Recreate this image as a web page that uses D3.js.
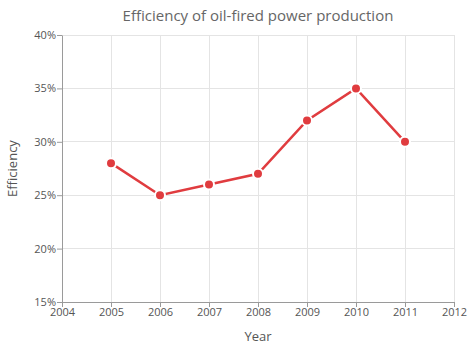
<!DOCTYPE html>
<html><head><meta charset="utf-8">
<script src="https://cdn.jsdelivr.net/npm/d3@7"></script>
<style>body{margin:0;background:#fff;}svg{display:block;}</style>
</head><body>
<script>
const years = [2005, 2006, 2007, 2008, 2009, 2010, 2011];
const efficiency = [28, 25, 26, 27, 32, 35, 30];
const xTicks = [2004, 2005, 2006, 2007, 2008, 2009, 2010, 2011, 2012];
const yTicks = [15, 20, 25, 30, 35, 40];
const title = "Efficiency of oil-fired power production";
const xTitle = "Year";
const yTitle = "Efficiency";

const W = 474, H = 348;
const m = {left: 62, right: 20, top: 35, bottom: 46};
const font = "'Open Sans', 'Segoe UI', sans-serif";
const svg = d3.select("body").append("svg").attr("width", W).attr("height", H);
const x = d3.scaleLinear().domain([2004, 2012]).range([m.left, W - m.right]);
const y = d3.scaleLinear().domain([15, 40]).range([H - m.bottom, m.top]);

// grid
svg.append("g").selectAll("line").data(yTicks).join("line")
  .attr("x1", m.left).attr("x2", W - m.right)
  .attr("y1", d => y(d)).attr("y2", d => y(d))
  .attr("stroke", "#e4e4e4").attr("stroke-width", 1).attr("shape-rendering", "crispEdges");
svg.append("g").selectAll("line").data(xTicks).join("line")
  .attr("y1", m.top).attr("y2", H - m.bottom)
  .attr("x1", d => x(d)).attr("x2", d => x(d))
  .attr("stroke", "#e4e4e4").attr("stroke-width", 1).attr("shape-rendering", "crispEdges");

const xAxis = svg.append("g").attr("transform", `translate(0,${H - m.bottom})`)
  .call(d3.axisBottom(x).tickValues(xTicks).tickFormat(d3.format("d")).tickSize(5).tickSizeOuter(0));
const yAxis = svg.append("g").attr("transform", `translate(${m.left},0)`)
  .call(d3.axisLeft(y).tickValues(yTicks).tickFormat(d => d + "%").tickSize(5).tickSizeOuter(0));
[xAxis, yAxis].forEach(a => {
  a.select(".domain").attr("stroke", "#9a9a9a");
  a.selectAll(".tick line").attr("stroke", "#9a9a9a");
  a.selectAll("text").attr("fill", "#555").style("font-family", font).style("font-size", "11px");
});
xAxis.selectAll("text").attr("dy", "0.9em").attr("y", 4);
yAxis.selectAll("text").attr("x", -6);

const pts = years.map((yr, i) => [yr, efficiency[i]]);
svg.append("path").datum(pts)
  .attr("fill", "none").attr("stroke", "#e03c3f").attr("stroke-width", 2.5)
  .attr("d", d3.line().x(d => x(d[0])).y(d => y(d[1])));
svg.append("g").selectAll("circle").data(pts).join("circle")
  .attr("cx", d => x(d[0])).attr("cy", d => y(d[1])).attr("r", 5)
  .attr("fill", "#e03c3f").attr("stroke", "#fff").attr("stroke-width", 2);

svg.append("text").attr("x", (m.left + W - m.right) / 2).attr("y", 21)
  .attr("text-anchor", "middle").attr("fill", "#666")
  .style("font-family", font).style("font-size", "15px").text(title);
svg.append("text").attr("x", (m.left + W - m.right) / 2).attr("y", 341)
  .attr("text-anchor", "middle").attr("fill", "#555")
  .style("font-family", font).style("font-size", "13px").text(xTitle);
svg.append("text").attr("transform", `translate(17,${(m.top + H - m.bottom) / 2}) rotate(-90)`)
  .attr("text-anchor", "middle").attr("fill", "#555")
  .style("font-family", font).style("font-size", "13px").text(yTitle);
</script>
</body></html>
